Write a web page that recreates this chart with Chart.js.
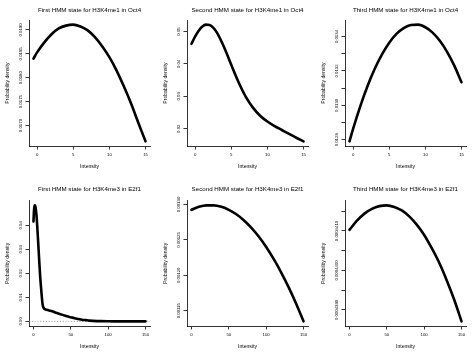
<!DOCTYPE html>
<html><head><meta charset="utf-8">
<script src="https://cdn.jsdelivr.net/npm/chart.js@4.4.1/dist/chart.umd.min.js"></script>
<style>
html,body{margin:0;padding:0;background:#fff;}
#wrap{position:relative;width:474px;height:356px;overflow:hidden;background:#fff;}
.cell{position:absolute;width:158px;height:178px;}
canvas{display:block;}
</style></head><body>
<div id="wrap">
<div class="cell" style="left:0;top:0"><canvas id="c1" width="158" height="178"></canvas></div>
<div class="cell" style="left:158px;top:0"><canvas id="c2" width="158" height="178"></canvas></div>
<div class="cell" style="left:316px;top:0"><canvas id="c3" width="158" height="178"></canvas></div>
<div class="cell" style="left:0;top:178px"><canvas id="c4" width="158" height="178"></canvas></div>
<div class="cell" style="left:158px;top:178px"><canvas id="c5" width="158" height="178"></canvas></div>
<div class="cell" style="left:316px;top:178px"><canvas id="c6" width="158" height="178"></canvas></div>
</div>
<script>
// ---------- data ----------
const titles = [
  'First HMM state for H3K4me1 in Oct4',
  'Second HMM state for H3K4me1 in Oct4',
  'Third HMM state for H3K4me1 in Oct4',
  'First HMM state for H3K4me3 in E2f1',
  'Second HMM state for H3K4me3 in E2f1',
  'Third HMM state for H3K4me3 in E2f1'
];
const xTitle = 'Intensity';
const yTitle = 'Probability density';

const x1 = [-0.5,0,1,2,3,4,5,6,7,8,9,10,11,12,13,14,15];
const y1 = [0.01840,0.01853,0.01874,0.01891,0.01903,0.01909,0.01911,0.01907,0.01899,0.01885,0.01866,0.01843,0.01815,0.01782,0.01746,0.01706,0.01667];

const x2 = [-0.5,0,0.5,1,1.5,2,2.5,3,4,5,6,7,8,9,10,11,12,13,14,15];
const y2 = [0.0462,0.0484,0.0502,0.0515,0.0521,0.0520,0.0512,0.0497,0.0452,0.0397,0.0344,0.0299,0.0265,0.0240,0.0222,0.0208,0.0196,0.0184,0.0172,0.0161];

const x3 = [-0.5,0,1,2,3,4,5,6,7,8,9,10,11,12,13,14,15];
const y3 = [0.012791,0.012864,0.012996,0.013113,0.013213,0.013296,0.013364,0.013415,0.013449,0.013467,0.013469,0.013454,0.013423,0.013375,0.013311,0.013231,0.013134];

const x4 = [0,0.5,1,1.5,2,2.5,3,4,5,6,7,8,9,10,11,12,13,14,16,20,25,30,35,40,45,50,55,60,65,70,75,80,90,100,110,120,130,140,150];
const y4 = [0.0416,0.0450,0.0472,0.0481,0.0483,0.0479,0.0470,0.0442,0.0398,0.0345,0.0290,0.0235,0.0185,0.0145,0.0108,0.0075,0.0060,0.0054,0.0050,0.0046,0.0042,0.0036,0.0031,0.0026,0.0021,0.0017,0.0013,0.0010,0.0007,0.0005,0.0003,0.0002,0.00008,0.00003,0.00001,0,0,0,0];

const x5 = [0,10,20,30,40,50,60,70,80,90,100,110,120,130,140,150];
const y5 = [0.0012925,0.0012967,0.0012988,0.0012988,0.0012967,0.0012925,0.0012862,0.0012778,0.0012673,0.0012547,0.0012400,0.0012232,0.0012043,0.0011833,0.0011602,0.0011350];

const x6 = [0,10,20,30,40,50,60,70,80,90,100,110,120,130,140,150];
const y6 = [0.00044103,0.00044126,0.00044144,0.00044156,0.00044163,0.00044165,0.00044161,0.00044152,0.00044137,0.00044116,0.00044090,0.00044057,0.00044020,0.00043976,0.00043927,0.00043871];

const xTicksSmall = [0,5,10,15];
const xLabelsSmall = ['0','5','10','15'];
const xTicksLarge = [0,50,100,150];
const xLabelsLarge = ['0','50','100','150'];

const yTicks1 = [0.0170,0.0175,0.0180,0.0185,0.0190];
const yLabels1 = ['0.0170','0.0175','0.0180','0.0185','0.0190'];
const yTicks2 = [0.02,0.03,0.04,0.05];
const yLabels2 = ['0.02','0.03','0.04','0.05'];
const yTicks3 = [0.0128,0.0129,0.0130,0.0131,0.0132,0.0133,0.0134];
const yLabels3 = ['0.0128','','0.0130','','0.0132','','0.0134'];
const yTicks4 = [0,0.01,0.02,0.03,0.04];
const yLabels4 = ['0.00','0.01','0.02','0.03','0.04'];
const yTicks5 = [0.00115,0.00120,0.00125,0.00130];
const yLabels5 = ['0.00115','0.00120','0.00125','0.00130'];
const yTicks6 = [0.0004390,0.0004395,0.0004400,0.0004405,0.0004410,0.0004415];
const yLabels6 = ['0.0004390','','0.0004400','','0.0004410',''];

const zeroLineValue = 0;

// ---------- style ----------
const FAMILY = '"Liberation Sans", Arial, Helvetica, sans-serif';
const TICK_SIZE = 4.3, TITLE_SIZE = 6.2, LAB_SIZE = 5.1;
const TICK_LEN = 3.5;
Chart.defaults.font.family = FAMILY;
Chart.defaults.color = '#000';

const measureCtx = document.createElement('canvas').getContext('2d');
function textWidth(s, size){ measureCtx.font = 'normal ' + size + 'px ' + FAMILY; return measureCtx.measureText(s).width; }

// R default axis extension (4%)
function rRange(arr){ const mn = Math.min(...arr), mx = Math.max(...arr), d = (mx-mn)*0.04; return [mn-d, mx+d]; }

const zeroLinePlugin = {
  id: 'zeroLine',
  beforeDatasetsDraw(chart, args, opts){
    if (opts == null || opts.value == null) return;
    const {ctx, chartArea: a} = chart;
    const py = chart.scales.y.getPixelForValue(opts.value);
    ctx.save();
    ctx.strokeStyle = '#8a8a8a'; ctx.lineWidth = 0.8; ctx.setLineDash([1.2,1.6]);
    ctx.beginPath(); ctx.moveTo(a.left, py); ctx.lineTo(a.right, py); ctx.stroke();
    ctx.restore();
  }
};

function makePanel(id, title, xs, ys, xT, xL, yT, yL, row, zero){
  const [xmin, xmax] = rRange(xs);
  const [ymin, ymax] = rRange(ys);
  const widest = Math.max(...yL.map(s => textWidth(s, TICK_SIZE)));
  const yPad = 8 - TICK_LEN - widest/2;
  const top = row === 0 ? {pt:6.8, pb:5.76} : {pt:7.8, pb:7.46};
  const xH = row === 0 ? 32 : 30;
  const xTitlePad = row === 0 ? 7.94 : 6.64;
  const plugins = zero ? [zeroLinePlugin] : [];
  new Chart(document.getElementById(id), {
    type: 'line',
    data: { datasets: [{
      data: xs.map((x,i) => ({x: x, y: ys[i]})),
      borderColor: '#000', borderWidth: 2.6, pointRadius: 0, fill: false,
      cubicInterpolationMode: 'monotone', borderCapStyle: 'round', borderJoinStyle: 'round'
    }]},
    plugins: plugins,
    options: {
      responsive: false, animation: false, devicePixelRatio: 1,
      layout: { padding: {left: 0, right: 8, top: 0, bottom: 0} },
      plugins: {
        legend: {display: false}, tooltip: {enabled: false},
        title: { display: true, text: title, fullSize: false, color: '#000',
          font: {family: FAMILY, size: TITLE_SIZE, weight: 'normal', lineHeight: 1.2},
          padding: {top: top.pt, bottom: top.pb} },
        zeroLine: zero ? {value: zeroLineValue} : {}
      },
      scales: {
        x: {
          type: 'linear', min: xmin, max: xmax, bounds: 'data',
          afterBuildTicks: s => { s.ticks = xT.map(v => ({value: v})); },
          afterFit: s => { s.height = xH; s.paddingLeft = 0; s.paddingRight = 0; },
          ticks: { autoSkip: false, minRotation: 0, maxRotation: 0, padding: 2.8, color: '#000',
            font: {family: FAMILY, size: TICK_SIZE, lineHeight: 1.2},
            callback: v => { const i = xT.indexOf(v); return i >= 0 ? xL[i] : ''; } },
          grid: { drawOnChartArea: false, drawTicks: true, tickLength: TICK_LEN, tickColor: '#000', tickWidth: 0.8 },
          border: { display: true, color: '#000', width: 0.8 },
          title: { display: true, text: xTitle, color: '#000',
            font: {family: FAMILY, size: LAB_SIZE, lineHeight: 1.2}, padding: {top: 0, bottom: xTitlePad} }
        },
        y: {
          type: 'linear', min: ymin, max: ymax, bounds: 'data',
          afterBuildTicks: s => { s.ticks = yT.map(v => ({value: v})); },
          afterFit: s => { s.width = 29; s.paddingTop = 0; s.paddingBottom = 0; },
          ticks: { autoSkip: false, minRotation: 90, maxRotation: 90, crossAlign: 'center', padding: yPad, color: '#000',
            font: {family: FAMILY, size: TICK_SIZE, lineHeight: 1.2},
            callback: v => { const i = yT.indexOf(v); return i >= 0 ? yL[i] : ''; } },
          grid: { drawOnChartArea: false, drawTicks: true, tickLength: TICK_LEN, tickColor: '#000', tickWidth: 0.8 },
          border: { display: true, color: '#000', width: 0.8 },
          title: { display: true, text: yTitle, color: '#000',
            font: {family: FAMILY, size: LAB_SIZE, lineHeight: 1.2}, padding: {top: 4.94, bottom: 0} }
        }
      }
    }
  });
}

makePanel('c1', titles[0], x1, y1, xTicksSmall, xLabelsSmall, yTicks1, yLabels1, 0, false);
makePanel('c2', titles[1], x2, y2, xTicksSmall, xLabelsSmall, yTicks2, yLabels2, 0, false);
makePanel('c3', titles[2], x3, y3, xTicksSmall, xLabelsSmall, yTicks3, yLabels3, 0, false);
makePanel('c4', titles[3], x4, y4, xTicksLarge, xLabelsLarge, yTicks4, yLabels4, 1, true);
makePanel('c5', titles[4], x5, y5, xTicksLarge, xLabelsLarge, yTicks5, yLabels5, 1, false);
makePanel('c6', titles[5], x6, y6, xTicksLarge, xLabelsLarge, yTicks6, yLabels6, 1, false);
</script>
</body></html>
